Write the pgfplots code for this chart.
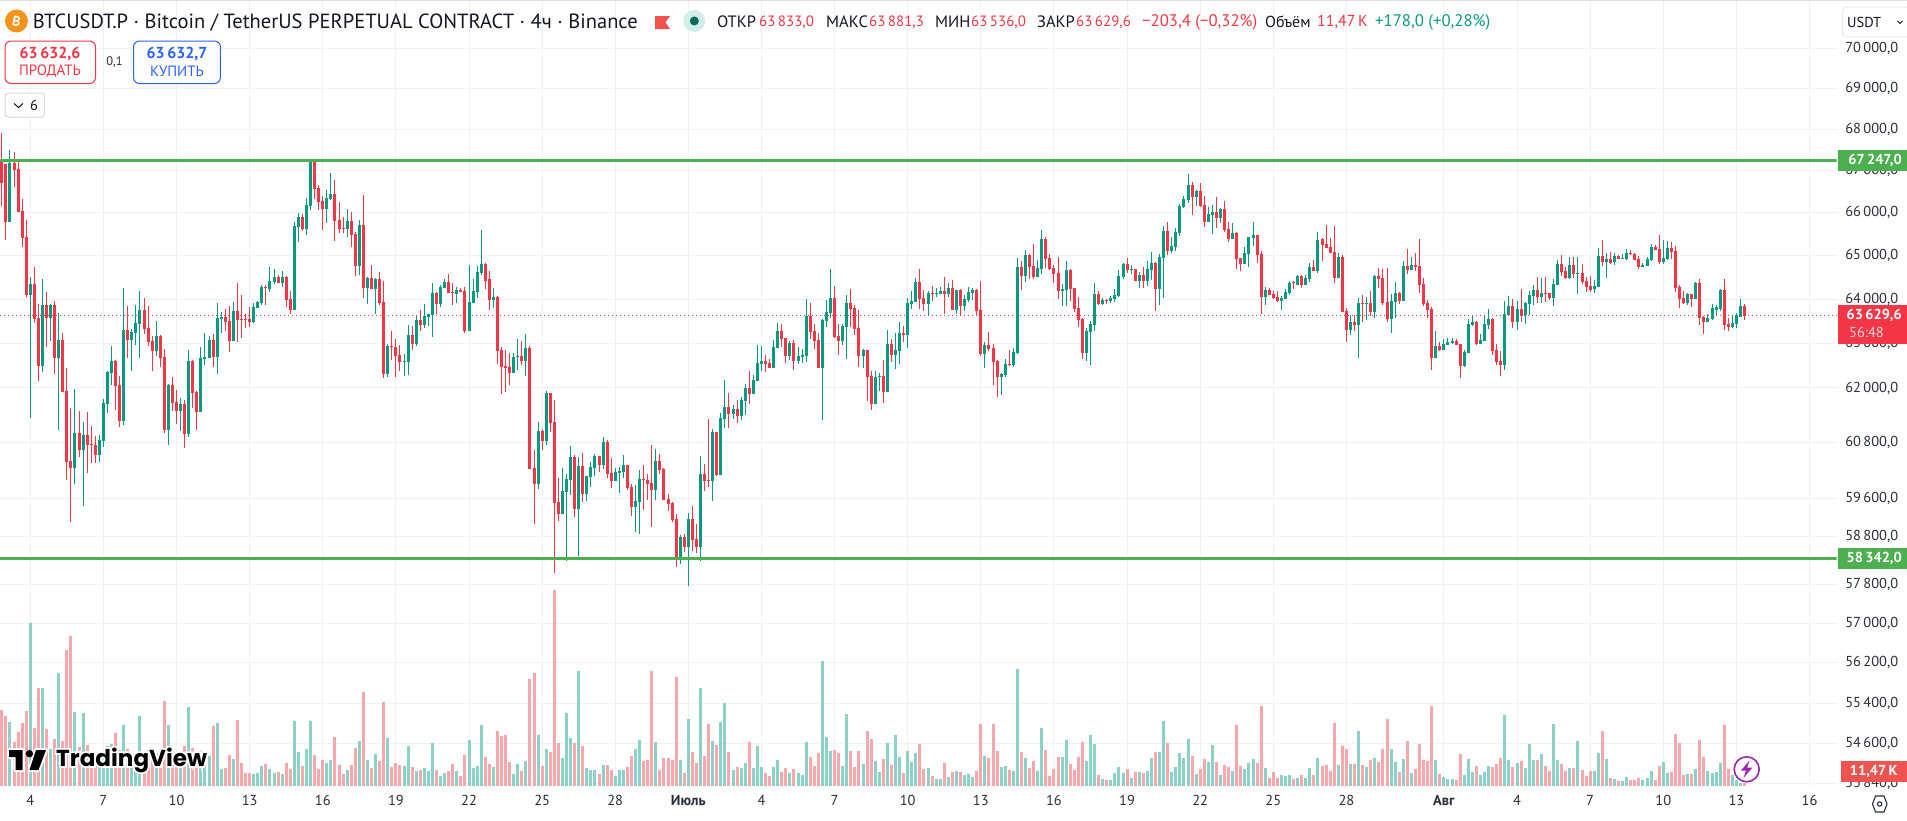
\documentclass[border=0pt]{standalone}
\usepackage{fontspec}
\usepackage{pgfplots}
\usepackage{pgfplotstable}
\pgfplotsset{compat=1.18}
\setmainfont{PT Sans}
\newfontfamily\tvfont{Poppins}
\newfontfamily\tvhalo[FakeBold=16]{Poppins}
\definecolor{cgreen}{HTML}{089981}
\definecolor{cred}{HTML}{F23645}
\definecolor{vgreen}{HTML}{8CD1C8}
\definecolor{vred}{HTML}{F9A6AC}
\definecolor{lvl}{HTML}{4CAF50}
\definecolor{gridc}{HTML}{F0F1F4}
\definecolor{ink}{HTML}{131722}
\definecolor{tickc}{HTML}{2A2E39}
\definecolor{cblue}{HTML}{2962FF}
\definecolor{btc}{HTML}{F7931A}
\definecolor{purp}{HTML}{9C27B0}
\definecolor{tagv}{HTML}{EF5350}
\pgfplotstableread{
k o h l c v
0 67285 67920 66165 66715 304
1 67180 67180 65370 65795 280
2 65795 67500 65795 67195 256
3 67190 67450 66620 67020 176
4 67045 67220 66030 66030 216
5 66045 66345 65210 65420 252
6 65440 65835 64055 64095 300
7 64100 64505 61345 64345 652
8 64345 64740 63460 63555 232
9 63570 63885 62165 62495 392
10 62495 64460 62360 63865 392
11 63865 64160 62920 63575 228
12 63575 63885 63055 63865 148
13 63865 63955 62320 62675 188
14 62675 63690 61080 63070 452
15 63070 63230 61920 61920 180
16 61935 62445 60000 60390 544
17 60400 61560 59095 60255 600
18 60255 61980 59920 61015 296
19 61015 61490 60495 60645 156
20 60645 61250 59445 60970 292
21 60970 61470 60150 60750 164
22 60775 61165 60360 60750 128
23 60750 60945 60360 60535 96
24 60535 60970 60385 60860 136
25 60840 61760 60710 61670 128
26 61650 62380 61450 62355 160
27 62335 62935 62070 62600 168
28 62600 62620 61515 62045 212
29 62070 62265 61145 61275 144
30 61275 64255 61185 63295 244
31 63295 63840 62665 63070 148
32 63070 63320 62380 63250 116
33 63230 63865 62960 63455 128
34 63430 64185 62665 63750 280
35 63750 64025 63205 63320 120
36 63340 63840 62935 63025 144
37 63050 63160 62380 62825 144
38 62825 63500 62710 63160 132
39 63160 63185 62465 62665 140
40 62690 62870 61015 61080 340
41 61080 62090 60750 62070 244
42 62070 62245 61490 61670 120
43 61690 61955 61210 61490 132
44 61490 61780 61055 61650 120
45 61650 61735 60685 60990 160
46 60990 62845 60925 62600 316
47 62600 62620 61560 61890 152
48 61910 61935 61080 61470 120
49 61470 62915 61470 62665 140
50 62645 63230 62510 62690 120
51 62665 63160 62665 63070 120
52 63070 63205 62465 62690 240
53 62690 63910 62310 63570 252
54 63545 63705 63230 63590 68
55 63590 63775 63275 63480 72
56 63500 63840 62800 63050 124
57 63050 63935 63050 63730 108
58 63730 64370 63025 63525 264
59 63545 64095 63115 63525 92
60 63545 63660 63340 63525 52
61 63545 63820 63365 63480 52
62 63480 63910 63455 63820 48
63 63795 63955 63795 63935 52
64 63910 64325 63865 64280 80
65 64280 64325 63865 64255 88
66 64230 64740 64160 64415 68
67 64390 64690 64345 64505 52
68 64505 64550 64370 64370 56
69 64370 64645 64280 64505 48
70 64505 64530 63820 63980 92
71 64000 64185 63660 63750 68
72 63750 65790 63750 65695 260
73 65670 66000 65320 65905 136
74 65905 65975 65580 65625 80
75 65625 66350 65485 66185 148
76 66165 67260 66070 67260 260
77 67260 67260 66330 66565 124
78 66590 66660 66070 66260 68
79 66285 66400 65600 66095 104
80 66095 66540 65765 66355 92
81 66330 66950 66305 66450 104
82 66450 66780 65345 65810 196
83 65835 66260 65530 65625 84
84 65650 65905 65530 65625 48
85 65625 66095 65440 65810 64
86 65810 66025 65205 65485 84
87 65510 65555 64530 64760 152
88 64760 65835 64555 65720 180
89 65720 66425 64025 64255 376
90 64255 64505 63890 64485 104
91 64485 64785 64230 64230 72
92 64230 64485 63660 64460 128
93 64460 64620 63865 63910 100
94 63935 64415 62225 62310 336
95 62310 62980 62245 62935 192
96 62935 63275 62620 62915 76
97 62915 63095 62245 62710 92
98 62735 62960 62380 62575 84
99 62575 62755 62265 62600 80
100 62575 63410 62290 63185 160
101 63185 63385 62845 62980 76
102 62980 63635 62935 63525 60
103 63525 63750 63275 63410 64
104 63410 63890 63340 63615 72
105 63590 63660 63385 63660 60
106 63635 64370 63140 64140 172
107 64140 64160 63660 63890 64
108 63890 64325 63820 64280 40
109 64255 64460 64255 64390 52
110 64390 64575 64140 64140 60
111 64160 64370 63865 64140 88
112 64115 64280 63910 64210 60
113 64210 64255 64160 64160 40
114 64185 64280 63230 63275 124
115 63275 64785 63275 63935 184
116 63910 64460 63910 64185 72
117 64160 64760 64025 64620 80
118 64600 65600 64555 64805 244
119 64805 64830 64230 64415 116
120 64460 64645 63750 63980 88
121 63980 64255 63795 64050 76
122 64050 64070 62530 62825 220
123 62845 62915 61870 62465 200
124 62490 62845 61910 62445 204
125 62465 62780 62070 62335 96
126 62335 62780 62335 62690 48
127 62690 63095 62400 62710 88
128 62710 63050 62510 62600 60
129 62600 63205 62265 62890 100
130 62890 62935 60235 60235 428
131 60255 60645 59065 59910 452
132 59910 61250 59805 61055 204
133 61055 61100 60645 60840 80
134 60840 61935 60750 61890 148
135 61890 61890 61035 61230 136
136 61250 61735 58035 59510 784
137 59530 60040 59130 59275 172
138 59275 60255 59275 59765 112
139 59745 60125 58285 60020 292
140 60000 60730 59680 60490 192
141 60490 60535 59215 59385 172
142 59385 60490 58390 60300 460
143 60300 60580 59530 59700 160
144 59700 60085 59550 60085 72
145 60060 60385 59850 60275 64
146 60255 60560 60085 60515 64
147 60515 60515 60170 60320 48
148 60320 60925 60235 60815 84
149 60815 60860 60040 60125 84
150 60150 60470 59830 59975 64
151 59975 60255 59975 60170 40
152 60150 60275 59720 60190 64
153 60170 60535 60040 60320 64
154 60320 60320 59785 59830 76
155 59850 59910 59235 59420 120
156 59420 59890 58900 59550 148
157 59530 60210 58855 60020 184
158 60020 60320 59360 60000 100
159 60000 60125 59575 59910 104
160 59935 60750 59005 59785 460
161 59785 60665 59575 60405 176
162 60405 60560 60125 60210 64
163 60235 60255 59575 59575 112
164 59595 59700 59340 59490 112
165 59510 59530 59110 59150 104
166 59170 59275 58160 58325 436
167 58325 58830 58220 58785 104
168 58785 58855 58470 58575 52
169 58575 59295 57765 59170 268
170 59170 59445 58490 58725 136
171 58745 59065 58450 58575 92
172 58575 60515 58285 60125 392
173 60125 60340 59765 59975 120
174 60000 61320 59850 59975 248
175 59975 61100 59550 61035 180
176 61035 61035 60085 60105 164
177 60105 61450 60105 61340 256
178 61320 62180 61120 61580 332
179 61580 61890 61120 61425 136
180 61425 61625 61320 61535 64
181 61535 61735 61230 61385 76
182 61385 61800 61295 61735 72
183 61715 62090 61405 62000 92
184 62000 62380 61650 61870 176
185 61870 62290 61870 62180 72
186 62155 62960 62155 62555 160
187 62530 62935 62380 62600 76
188 62600 62735 62355 62530 52
189 62555 62645 62445 62445 40
190 62445 63070 62445 62915 76
191 62890 63455 62890 63275 104
192 63275 63430 62915 63095 56
193 63115 63115 62555 62710 72
194 62710 63050 62620 63005 52
195 63005 63070 62400 62600 68
196 62600 62915 62530 62710 52
197 62690 62870 62555 62735 44
198 62710 64000 62575 63615 176
199 63615 63910 63095 63250 116
200 63275 63430 62870 63050 80
201 63070 63230 62445 62445 132
202 62445 63545 61295 63525 500
203 63500 63980 63365 63705 196
204 63680 64690 63570 64025 140
205 64025 64300 63115 63140 144
206 63160 63430 62735 63050 132
207 63050 63430 62960 63385 80
208 63365 64095 62645 63910 288
209 63910 64230 63365 63775 140
210 63795 63865 63185 63320 76
211 63340 63750 62465 62710 140
212 62710 62870 62445 62845 88
213 62845 62845 61715 62245 220
214 62265 62380 61515 61650 188
215 61650 62380 61650 62245 100
216 62245 62335 61935 62265 56
217 62265 62620 61670 61910 108
218 61910 63295 61910 62980 172
219 62980 63095 62575 62735 84
220 62735 63230 62420 62845 204
221 62825 63480 62530 63230 116
222 63230 63385 63025 63185 52
223 63185 64025 62890 63910 140
224 63890 64185 63775 63955 96
225 63935 64485 63935 64390 132
226 64390 64690 63775 64000 168
227 64025 64210 63730 63890 68
228 63890 64185 63615 64140 72
229 64140 64300 63955 64115 40
230 64115 64255 64050 64140 28
231 64115 64280 64115 64185 28
232 64185 64505 63660 64115 92
233 64115 64370 64050 64255 36
234 64255 64435 63750 63750 56
235 63750 64210 63660 64210 60
236 64210 64230 63615 63840 56
237 63840 64095 63730 64000 44
238 63980 64280 63935 64160 48
239 64140 64255 63980 64210 36
240 64210 64230 63635 63730 60
241 63750 64415 62710 62755 248
242 62755 63025 62445 62960 120
243 62960 63250 62825 62870 112
244 62890 62980 62070 62575 248
245 62600 62620 61800 62245 140
246 62245 62335 61845 62310 76
247 62290 62645 62245 62530 80
248 62530 62845 62490 62510 64
249 62510 62890 62465 62800 60
250 62780 64945 62755 64740 468
251 64740 64875 64210 64530 136
252 64530 65130 64390 65015 112
253 65015 65040 64460 64740 72
254 64760 65275 64460 64505 100
255 64505 64900 64505 64715 60
256 64690 65600 64575 65390 232
257 65390 65440 64715 64920 144
258 64945 65040 64670 64690 40
259 64715 64785 64370 64575 68
260 64600 64970 64000 64185 116
261 64185 64345 63840 64230 116
262 64210 64875 63840 64670 184
263 64670 64690 63955 64230 88
264 64255 64255 63705 63775 64
265 63795 64050 63365 63525 116
266 63545 63570 62645 62780 176
267 62780 63340 62600 63275 100
268 63250 63500 62510 63430 204
269 63410 64370 63275 64115 168
270 64115 64185 63865 63890 44
271 63890 64025 63865 63980 28
272 63980 64000 63890 63955 24
273 63955 64070 63910 64025 24
274 64000 64230 63935 64095 52
275 64070 64670 64050 64530 76
276 64505 64830 64460 64805 52
277 64805 64945 64600 64670 68
278 64670 64785 64575 64690 32
279 64690 64690 64415 64415 56
280 64415 64620 64255 64555 56
281 64555 64740 64255 64415 52
282 64415 64875 64300 64690 60
283 64670 65085 64435 64830 112
284 64830 64855 63730 64230 136
285 64230 65040 63865 64970 136
286 64945 65695 64025 65580 260
287 65580 65790 65015 65110 172
288 65110 65440 65060 65230 56
289 65205 65650 65110 65555 76
290 65530 66210 65460 66165 132
291 66140 66400 66115 66330 112
292 66305 66925 66235 66660 188
293 66660 66735 65950 66375 120
294 66375 66540 66165 66520 48
295 66520 66710 66140 66165 68
296 66185 66400 65670 65790 108
297 65790 66140 65790 65975 96
298 65950 66185 65510 66020 164
299 66020 66375 65650 65880 96
300 65880 66115 65765 66095 44
301 66095 66285 65555 65600 84
302 65625 65790 65320 65390 76
303 65390 65765 65390 65530 60
304 65530 65555 64690 64920 244
305 64945 64945 64645 64805 80
306 64805 65200 64805 65060 68
307 65040 65440 64740 65440 92
308 65415 65790 65225 65485 108
309 65485 65485 64830 65015 92
310 65040 65110 63660 64050 320
311 64050 64280 63865 64210 72
312 64210 64255 64095 64095 32
313 64115 64185 64000 64025 56
314 64050 64185 63935 63955 32
315 63955 64070 63750 64025 44
316 64000 64230 64000 64160 40
317 64140 64415 64095 64370 44
318 64390 64415 64230 64370 28
319 64325 64555 64325 64530 32
320 64530 64555 64255 64325 44
321 64325 64555 64325 64485 32
322 64460 64830 64390 64740 72
323 64740 64900 64645 64645 44
324 64645 65555 64600 65370 112
325 65390 65415 64875 65250 80
326 65275 65720 65180 65180 84
327 65205 65415 65060 65060 60
328 65085 65695 64370 64485 252
329 64485 65060 64485 64970 84
330 64970 65015 63705 63705 160
331 63730 63795 63025 63295 148
332 63295 63635 63185 63480 88
333 63480 63635 63275 63410 88
334 63410 64025 62665 63910 220
335 63910 64095 63480 63890 84
336 63890 64050 63525 63910 76
337 63910 64185 63615 63705 104
338 63705 64555 63570 64530 112
339 64530 64715 64255 64460 96
340 64485 64690 63865 63910 148
341 63935 64715 63480 63545 268
342 63545 64115 63230 63955 148
343 63935 64390 63570 64140 96
344 64140 64160 63890 63955 56
345 63955 64875 63955 64760 108
346 64760 65155 64575 64670 180
347 64670 64970 64670 64785 52
348 64785 65060 64645 64740 68
349 64760 65390 64140 64325 168
350 64345 64485 63840 63890 104
351 63910 63980 63570 63750 100
352 63775 63820 62400 62665 320
353 62665 63275 62665 62935 104
354 62935 63025 62825 62845 48
355 62845 63095 62845 62980 36
356 62960 63115 62960 63025 28
357 63005 63115 62980 63050 28
358 63050 63095 62960 62960 24
359 62980 62980 62225 62490 128
360 62490 62845 62465 62800 44
361 62780 63545 62780 63430 108
362 63410 63615 63385 63480 56
363 63480 63500 62960 62980 80
364 62980 63205 62980 63070 44
365 63050 63615 63050 63430 56
366 63410 63775 63320 63545 80
367 63545 63570 62735 62825 76
368 62845 62980 62510 62575 88
369 62600 62825 62265 62510 112
370 62510 63955 62400 63660 284
371 63635 64070 63635 63840 104
372 63840 64000 63340 63480 76
373 63480 63955 63295 63775 92
374 63775 64230 63480 63615 100
375 63635 63935 63430 63910 72
376 63890 64185 63635 64095 168
377 64070 64325 63865 64210 104
378 64210 64505 63910 64050 104
379 64050 64485 63910 64140 128
380 64140 64505 63935 64115 80
381 64140 64140 63980 64025 60
382 64025 64460 63840 64345 248
383 64325 64900 64325 64805 104
384 64805 65015 64530 64620 88
385 64645 64740 64460 64485 60
386 64485 64970 64460 64785 72
387 64785 64970 64485 64575 72
388 64575 64970 64115 64600 180
389 64600 64805 64345 64390 64
390 64415 64505 64160 64280 40
391 64300 64530 64160 64210 60
392 64230 64435 64140 64300 60
393 64280 65180 64280 64990 132
394 64990 65370 64760 64855 220
395 64855 65060 64485 64920 108
396 64920 65085 64805 64830 32
397 64855 65060 64785 64990 28
398 64990 65015 64920 64920 20
399 64920 65040 64920 64945 20
400 64920 65155 64900 65060 36
401 65060 65130 65015 65040 24
402 65040 65060 64900 64900 24
403 64920 64990 64690 64740 32
404 64740 64830 64740 64785 24
405 64760 64970 64760 64920 32
406 64900 65275 64875 65205 60
407 65205 65250 65130 65130 24
408 65155 65485 64805 64855 80
409 64855 65370 64805 64945 96
410 64920 65345 64900 65180 52
411 65180 65320 64920 65085 56
412 65110 65225 64160 64255 208
413 64280 64325 63795 64000 172
414 64025 64185 63890 63910 44
415 63910 64140 63865 64115 48
416 64115 64115 63820 64000 48
417 64000 64390 64000 64370 68
418 64370 64460 63410 63570 184
419 63590 63615 63205 63480 116
420 63480 63660 63480 63570 60
421 63545 63890 63525 63795 52
422 63750 63865 63635 63820 56
423 63775 64230 63730 64210 92
424 64210 64460 63295 63410 244
425 63430 63570 63275 63365 68
426 63365 63635 63340 63455 44
427 63430 63680 63340 63635 24
428 63590 64000 63590 63840 12
429 63833 63881.3 63536 63629.6 11.47
}\candles
% the price scale is logarithmic: prices are plotted as ln(price) on a linear axis
\pgfplotsset{base/.style={scale only axis,width=1836.7bp,height=785bp,xmin=-0.46,xmax=451.7,at={(0bp,-786bp)},anchor=south west},
  price/.style={ymin=10.89272,ymax=11.17310},
  cndl/.style={draw=none,no markers}}
\begin{document}
\begin{tikzpicture}
\useasboundingbox (0bp,0bp) rectangle (1907bp,-821bp);
% grid and tick labels
\begin{axis}[base,price,
  axis line style={draw=none},major tick length=0,
  xtick={7,25,43,61,79,97,115,133,151,169,187,205,223,241,259,277,295,313,331,355,373,391,409,427,445},
  xticklabels={4,7,10,13,16,19,22,25,28,\textbf{Июль},4,7,10,13,16,19,22,25,28,\textbf{Авг},4,7,10,13,16},
  ytick={11.15625,11.14186,11.12726,11.11245,11.09741,11.08214,11.06664,11.05089,11.03489,11.01535,10.99541,10.98190,10.96475,10.95081,10.93668,10.92234,10.90780,10.89378},
  yticklabels={{70\,000,0},{69\,000,0},{68\,000,0},{67\,000,0},{66\,000,0},{65\,000,0},{64\,000,0},{63\,000,0},{62\,000,0},{60\,800,0},{59\,600,0},{58\,800,0},{57\,800,0},{57\,000,0},{56\,200,0},{55\,400,0},{54\,600,0},{53\,840,0}},
  yticklabel pos=right,xtick pos=bottom,
  grid=major,grid style={gridc,line width=1bp},
  x tick label style={font=\fontsize{14.5}{16}\selectfont,color=tickc,yshift=-6bp},
  y tick label style={font=\fontsize{14.5}{16}\selectfont,color=tickc,anchor=east,xshift=65bp},
  clip=true]
\addplot[draw=none,forget plot] coordinates {(0,11)};
\end{axis}
% volume
\begin{axis}[base,hide axis,ymin=0,ymax=3140,clip=true]
\addplot[ycomb,line width=3bp,color=vgreen,mark=none] table[x=k,y expr={\thisrow{c}>=\thisrow{o}?\thisrow{v}:nan}]{\candles};
\addplot[ycomb,line width=3bp,color=vred,mark=none] table[x=k,y expr={\thisrow{c}<\thisrow{o}?\thisrow{v}:nan}]{\candles};
\end{axis}
% candles
\begin{axis}[base,price,hide axis,clip=true]
\addplot[cred,line width=1bp,dash pattern=on 1bp off 3bp] table[x=x,y expr={ln(\thisrow{p})}] {
x p
-0.46 63629.6
451.7 63629.6
};
\addplot[cndl,error bars/.cd,y dir=both,y explicit,error mark=none,error bar style={line width=1bp,color=cgreen}]
  table[x=k,y expr={\thisrow{c}>=\thisrow{o}?ln(\thisrow{c}):nan},y error plus expr={ln(\thisrow{h})-ln(\thisrow{c})},y error minus expr={ln(\thisrow{c})-ln(\thisrow{l})}]{\candles};
\addplot[cndl,error bars/.cd,y dir=both,y explicit,error mark=none,error bar style={line width=1bp,color=cred}]
  table[x=k,y expr={\thisrow{c}<\thisrow{o}?ln(\thisrow{c}):nan},y error plus expr={ln(\thisrow{h})-ln(\thisrow{c})},y error minus expr={ln(\thisrow{c})-ln(\thisrow{l})}]{\candles};
\addplot[cndl,error bars/.cd,y dir=plus,y explicit,error mark=none,error bar style={line width=3bp,color=cgreen}]
  table[x=k,y expr={\thisrow{c}>=\thisrow{o}?ln(\thisrow{o}):nan},y error plus expr={ln(\thisrow{c})-ln(\thisrow{o})}]{\candles};
\addplot[cndl,error bars/.cd,y dir=plus,y explicit,error mark=none,error bar style={line width=3bp,color=cred}]
  table[x=k,y expr={\thisrow{c}<\thisrow{o}?ln(\thisrow{c}):nan},y error plus expr={ln(\thisrow{o})-ln(\thisrow{c})}]{\candles};
\addplot[lvl,line width=3bp] table[x=x,y expr={ln(\thisrow{p})}] {
x p
-0.46 67247
451.7 67247
};
\addplot[lvl,line width=3bp] table[x=x,y expr={ln(\thisrow{p})}] {
x p
-0.46 58342
451.7 58342
};
\end{axis}
% interface
\begin{scope}[x=1bp,y=-1bp]
\fill[black!12] (0,0) rectangle (1907,1);
% header
\fill[btc] (16.5,21) circle (11.5bp);
\node[white,font=\fontsize{14}{14}\selectfont\bfseries,inner sep=0,rotate=-10] at (16.5,21) {B};
\node[anchor=west,inner sep=0,color=ink,font=\fontsize{20.6}{22}\selectfont] at (32.6,23) {BTCUSDT.P · Bitcoin / TetherUS PERPETUAL CONTRACT · 4ч · Binance};
\fill[tagv] (655,16) -- (670,16) -- (665.5,22.5) -- (670,29) -- (655,29) -- cycle;
\fill[cgreen!18] (694.3,21) circle (11bp);
\fill[cgreen!70!black] (694.3,21) circle (4.5bp);
\def\hd#1#2#3#4{\node[anchor=west,inner sep=0,color=#3,font=\fontsize{#4}{18}\selectfont] at (#1,22) {#2};}
\hd{717}{ОТКР}{ink}{16.5}\hd{759}{63\,833,0}{cred}{15}
\hd{826}{МАКС}{ink}{16.5}\hd{869}{63\,881,3}{cred}{15}
\hd{935}{МИН}{ink}{16.5}\hd{971}{63\,536,0}{cred}{15}
\hd{1037}{ЗАКР}{ink}{16.5}\hd{1076}{63\,629,6}{cred}{15}
\hd{1142}{−203,4 (−0,32\%)}{cred}{16.8}
\hd{1265}{Объём}{ink}{16}\hd{1317}{11,47\,K}{cred}{16}
\hd{1375}{+178,0 (+0,28\%)}{cgreen}{16.8}
% buttons
\draw[cred,fill=white,rounded corners=6bp,line width=1bp] (5,41) rectangle (95.5,83.5);
\node[cred,font=\fontsize{16}{18}\selectfont\bfseries,inner sep=0] at (50,54) {63\,632,6};
\node[cred,font=\fontsize{15}{17}\selectfont,inner sep=0] at (50,71) {ПРОДАТЬ};
\node[tickc,font=\fontsize{12.5}{14}\selectfont,inner sep=0] at (114.5,62) {0,1};
\draw[cblue,fill=white,rounded corners=6bp,line width=1bp] (133.5,41) rectangle (220.4,83.5);
\node[cblue,font=\fontsize{16}{18}\selectfont\bfseries,inner sep=0] at (177,54) {63\,632,7};
\node[cblue,font=\fontsize{15}{17}\selectfont,inner sep=0] at (177,71) {КУПИТЬ};
\draw[black!15,fill=white,rounded corners=3bp,line width=1bp] (5,93) rectangle (44.5,117);
\draw[ink,line width=1bp] (14,103.5) -- (18.5,107.5) -- (23,103.5);
\node[ink,font=\fontsize{14.5}{16}\selectfont,inner sep=0] at (34,105) {6};
% logo
\path[fill=black,draw=white,line width=4bp,line join=round]
  (9,750) -- (22.5,750) -- (22.5,770) -- (15.5,770) -- (15.5,757) -- (9,757) -- cycle
  (36,750) -- (46,750) -- (38.5,770) -- (29.5,770) -- cycle;
\fill[black] (9,750) -- (22.5,750) -- (22.5,770) -- (15.5,770) -- (15.5,757) -- (9,757) -- cycle;
\fill[black] (36,750) -- (46,750) -- (38.5,770) -- (29.5,770) -- cycle;
\fill[black] (29.4,753.7) circle (3.7bp);
\node[anchor=west,inner sep=0,white,font=\tvhalo\bfseries\fontsize{23.2}{26}\selectfont] at (56,760) {TradingView};
\node[anchor=west,inner sep=0,black,font=\tvfont\bfseries\fontsize{23.2}{26}\selectfont] at (56,760) {TradingView};
% tags
\fill[lvl] (1838,150) rectangle (1907,171);
\node[anchor=east,inner sep=0,white,font=\fontsize{14.5}{16}\selectfont\bfseries] at (1902,160.5) {67\,247,0};
\fill[lvl] (1838,548) rectangle (1907,569);
\node[anchor=east,inner sep=0,white,font=\fontsize{14.5}{16}\selectfont\bfseries] at (1902,558.5) {58\,342,0};
\fill[cred] (1838,305) rectangle (1907,344);
\node[anchor=east,inner sep=0,white,font=\fontsize{14.5}{16}\selectfont\bfseries] at (1902,315) {63\,629,6};
\node[anchor=west,inner sep=0,white!80!cred,font=\fontsize{14.5}{16}\selectfont] at (1849,332.5) {56:48};
\fill[tagv] (1840.6,761) rectangle (1907,782);
\node[inner sep=0,white,font=\fontsize{14.5}{16}\selectfont\bfseries] at (1873.8,771.5) {11,47\,K};
% USDT box
\draw[black!8,fill=white,rounded corners=4bp,line width=1bp] (1842.7,7) rectangle (1910,37);
\node[anchor=west,inner sep=0,ink,font=\fontsize{14.5}{16}\selectfont] at (1847,22) {USDT};
\draw[ink,line width=1bp] (1897.5,21) -- (1900,23.5) -- (1902.5,21);
% lightning
\draw[purp,fill=white,line width=1.6bp] (1746.7,769.3) circle (12.5bp);
\fill[purp] (1749.5,760.5) -- (1741,770.5) -- (1746,770.5) -- (1743.5,778) -- (1752.5,767.5) -- (1747.2,767.5) -- cycle;
% settings
\draw[tickc,line width=1.1bp,line join=round] (1872.5,804) -- (1875.5,796) -- (1884,796) -- (1887,804) -- (1884,812) -- (1875.5,812) -- cycle;
\draw[tickc,line width=1.1bp] (1879.7,804) circle (2.2bp);
\end{scope}
\end{tikzpicture}
\end{document}
